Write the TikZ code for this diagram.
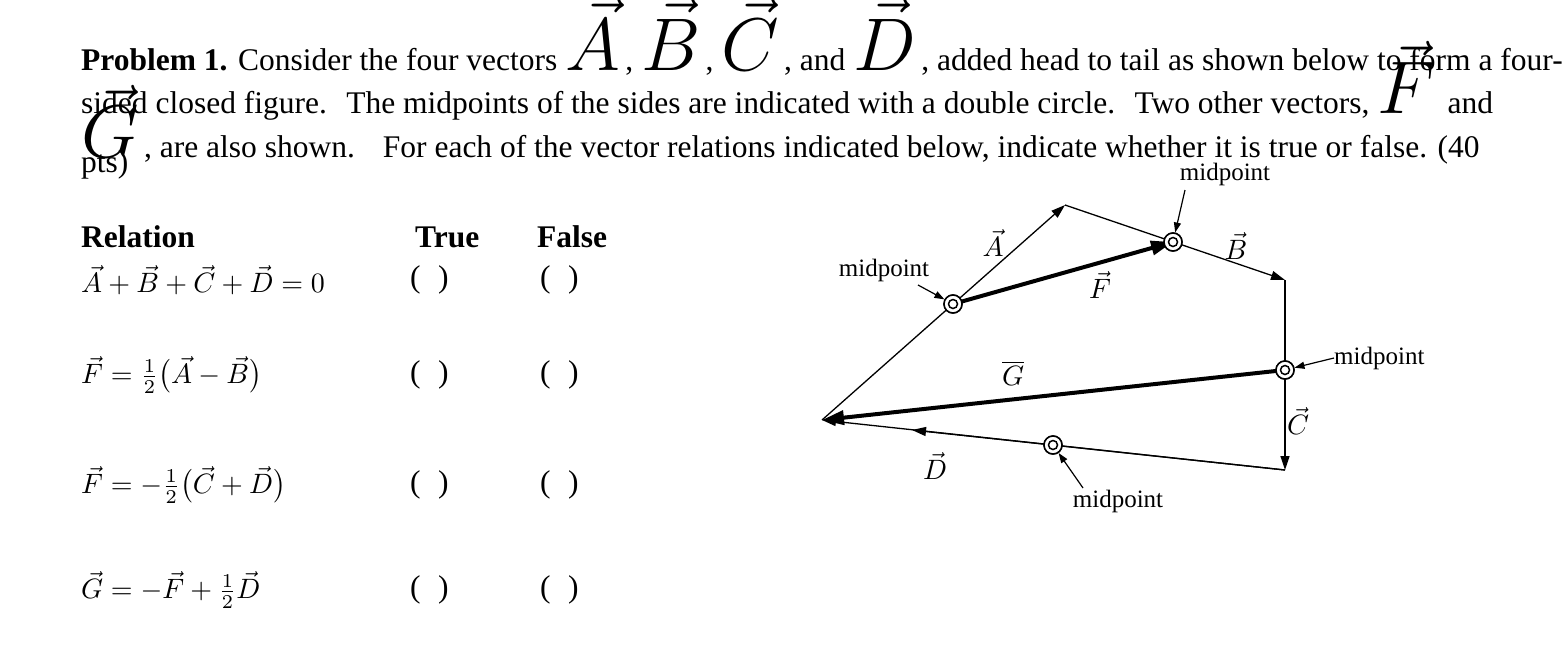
\documentclass[tikz,border=0pt]{standalone}
\usepackage{amsmath}
\usepackage{graphicx}
\usepackage{fontspec}
\setmainfont{Liberation Serif}
\usetikzlibrary{arrows.meta}
\newcommand{\myV}[1]{\raisebox{0pt}{\scalebox{3.0}{$\vec #1$}}}
\newcommand{\myM}[1]{\scalebox{2.8}{$#1$}}
\begin{document}
\begin{tikzpicture}[x=1pt,y=-1pt,
  txt/.style={anchor=west,inner sep=0pt,font=\fontsize{31.5}{36}\selectfont},
  lab/.style={inner sep=0pt,font=\fontsize{25}{28}\selectfont},
  vl/.style={inner sep=0pt},
  rel/.style={anchor=west,inner sep=0pt},
  vec/.style={line width=1.3pt,-{Triangle[length=14pt,width=9pt]}},
  thk/.style={line width=4pt,-{Triangle[length=22pt,width=14pt]}},
  pnt/.style={line width=1.2pt,-{Triangle[length=10pt,width=7pt]}},
  dbl/.style={circle,draw,line width=1.5pt,minimum size=18pt,inner sep=0pt,
     path picture={\draw[line width=1.5pt] (path picture bounding box.center) circle (4.5pt);}}]
\useasboundingbox (0,0) rectangle (1566,646);
\node[txt] (l1) at (81,37) {\textbf{Problem 1.} Consider the four vectors \myV{A}\,, \myV{B}\,, \myV{C}\,, and \myV{D}\,, added head to tail as shown below to form a four-};
\node[txt] (l2) at (81,81) {sided closed figure.\; The midpoints of the sides are indicated with a double circle.\; Two other vectors, \myV{F}\, and};
\node[txt] (l3) at (81,125) {\myV{G}\,, are also shown.\;\; For each of the vector relations indicated below, indicate whether it is true or false. (40};
\node[txt] (l4) at (81,165) {pts)};
\node[txt] (h1) at (81,237) {\textbf{Relation}};
\node[txt] (h2) at (415,237) {\textbf{True}};
\node[txt] (h3) at (537,237) {\textbf{False}};
\node[rel] (r1) at (81,280) {\myM{\vec A+\vec B+\vec C+\vec D=0}};
\node[rel] (r2) at (81,375) {\myM{\vec F=\tfrac{1}{2}\bigl(\vec A-\vec B\bigr)}};
\node[rel] (r3) at (81,485) {\myM{\vec F=-\tfrac{1}{2}\bigl(\vec C+\vec D\bigr)}};
\node[rel] (r4) at (81,590) {\myM{\vec G=-\vec F+\tfrac{1}{2}\vec D}};
\foreach \y/\n in {280/a,375/b,485/c,590/d}{
  \node[txt] (t\n) at (410,\y) {(\;\;)};
  \node[txt] (f\n) at (540,\y) {(\;\;)};
}
% diagram
\coordinate (O) at (822,420);
\coordinate (P) at (1065,205);
\coordinate (Q) at (1285,280);
\coordinate (R) at (1285,470);
\node[dbl] (mA) at (953,304) {};
\node[dbl] (mB) at (1173,242) {};
\node[dbl] (mC) at (1285,370) {};
\node[dbl] (mD) at (1053,445) {};
\draw[vec] (O) -- (P);
\draw[vec] (P) -- (Q);
\draw[vec] (Q) -- (R);
\draw[vec] (R) -- (O);
\coordinate (dm) at (912,430);
\draw[vec] (R) -- (dm);
\draw[thk] (mA.center) -- (mB.center);
\draw[thk] (mC.center) -- (O);
\node[dbl,fill=white] at (mA) {};
\node[dbl,fill=white] at (mB) {};
\node[dbl,fill=white] at (mC) {};
\node[dbl,fill=white] at (mD) {};
\node[vl] (la) at (993,243) {\myM{\vec A}};
\node[vl] (lb) at (1236,246) {\myM{\vec B}};
\node[vl] (lf) at (1100,285) {\myM{\vec F}};
\node[vl] (lg) at (1013,373) {\myM{\overline{G}}};
\node[vl] (lc) at (1298,421) {\myM{\vec C}};
\node[vl] (ld) at (935,466) {\myM{\vec D}};
\node[lab] (t1) at (1225,174) {midpoint};
\node[lab] (t2) at (884,270) {midpoint};
\node[lab,anchor=west] (t3) at (1334,358) {midpoint};
\node[lab] (t4) at (1118,501) {midpoint};
\draw[pnt] (1185,190) -- (mB);
\draw[pnt] (918,285) -- (mA);
\draw[pnt] (t3.west) -- (mC);
\draw[pnt] (1083,488) -- (mD);
\end{tikzpicture}
\end{document}
